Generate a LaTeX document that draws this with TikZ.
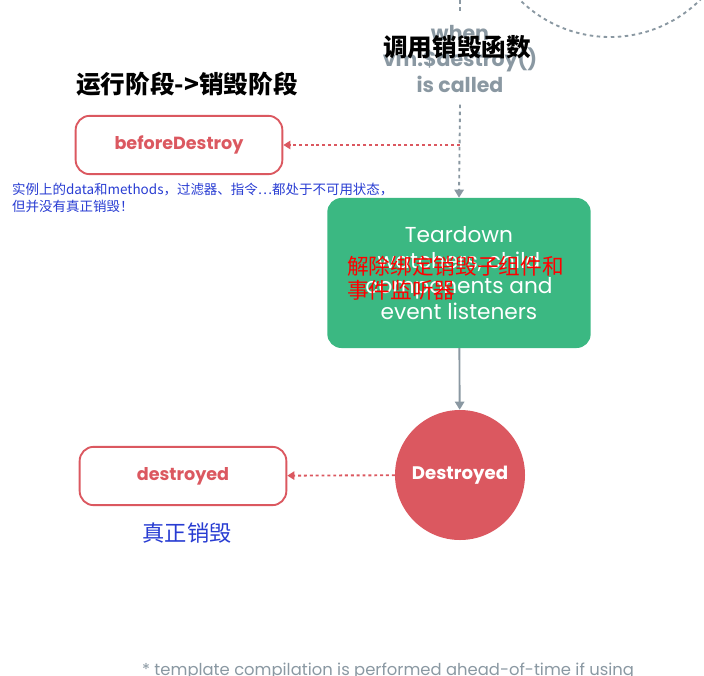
\documentclass[tikz,border=0pt]{standalone}
\usepackage{fontspec}
\setmainfont{Poppins}
\newfontfamily\cjk{Noto Sans CJK SC}
\usetikzlibrary{arrows.meta,positioning}
\definecolor{vred}{RGB}{219,88,96}
\definecolor{vgreen}{RGB}{59,184,130}
\definecolor{vgray}{RGB}{138,152,162}
\definecolor{noteblue}{RGB}{40,60,210}
\begin{document}
\begin{tikzpicture}[x=0.03cm,y=-0.03cm]
  \tikzstyle{hookbox}=[rectangle, draw=vred, line width=1.6pt, rounded corners=12pt,
                       minimum width=6.2cm, minimum height=1.75cm, text=vred,
                       font=\fontsize{15}{18}\selectfont\bfseries]
  \tikzstyle{hookarrow}=[vred, line width=1.6pt, dash pattern=on 2.5pt off 2.5pt, -{Triangle[length=6pt,width=7pt]}]
  \tikzstyle{cjktitle}=[font=\cjk\fontsize{21}{24}\selectfont\bfseries]
  \useasboundingbox (0,0) rectangle (704,675);
  \clip (0,0) rectangle (704,675);
  % dashed circle at the top right
  \draw[vgray, line width=1.6pt, dash pattern=on 3pt off 3pt] (610,-91) circle (128);
  \node[text=vgray, align=center, font=\fontsize{17.5}{22}\selectfont\bfseries] (Called) at (460,59)
       {when\\vm.\$destroy()\\is called};
  \coordinate (Top) at (460,0);
  \coordinate (Split) at (460,145);
  \node[cjktitle] (Call Label) at (457,47) {调用销毁函数};
  \node[cjktitle] (Stage Label) at (187,84) {运行阶段->销毁阶段};
  \node[hookbox] (beforeDestroy) at (179,145) {beforeDestroy};
  \node[anchor=north west, text=noteblue, align=left, inner sep=0pt,
        font=\cjk\fontsize{11.5}{14.5}\selectfont] (Note) at (12,183)
       {实例上的data和methods，过滤器、指令…都处于不可用状态，\\但并没有真正销毁！};
  \node[rectangle, fill=vgreen, rounded corners=12pt, minimum width=7.9cm, minimum height=4.5cm,
        text=white, align=center, font=\fontsize{18.5}{22}\selectfont] (Teardown) at (459,273)
       {Teardown\\watchers, child\\components and\\event listeners};
  \node[anchor=north west, text=red, align=left, inner sep=0pt,
        font=\cjk\fontsize{18.5}{20.5}\selectfont] (Teardown Note) at (347,256)
       {解除绑定销毁子组件和\\事件监听器};
  \node[circle, fill=vred, minimum size=3.9cm, text=white,
        font=\fontsize{15.5}{18}\selectfont\bfseries] (Destroyed) at (460,475) {Destroyed};
  \node[hookbox] (destroyed) at (183,476) {destroyed};
  \node[text=noteblue, font=\cjk\fontsize{19}{22}\selectfont] (Real Label) at (187,533) {真正销毁};
  \node[anchor=west, text=vgray, font=\fontsize{14}{17}\selectfont] (Footnote) at (138,671)
       {* template compilation is performed ahead-of-time if using};
  \draw[vgray, line width=1.6pt, dash pattern=on 3pt off 3pt] (Top) -- ++(0,12);
  \draw[vgray, line width=1.6pt, dash pattern=on 3pt off 3pt, -{Triangle[length=7pt,width=8pt]}]
       (Called.south) ++(0,8) -- (Teardown.north);
  \draw[hookarrow] (Split) -- (beforeDestroy);
  \draw[vgray, line width=1.6pt, -{Triangle[length=7pt,width=8pt]}] (Teardown) -- (Destroyed);
  \draw[hookarrow] (Destroyed) -- (destroyed);
\end{tikzpicture}
\end{document}
